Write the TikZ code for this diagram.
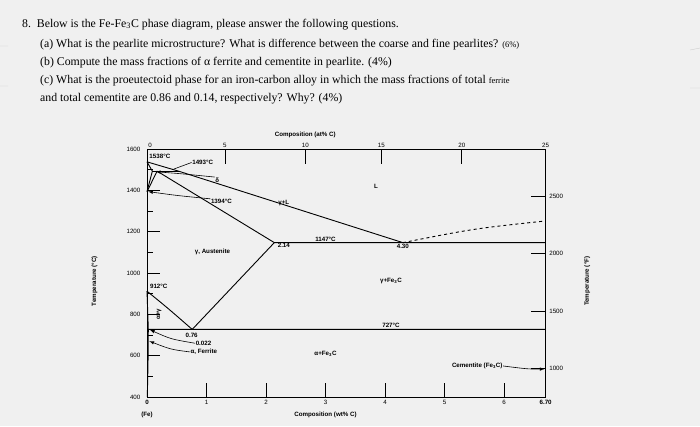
\documentclass[tikz,border=0pt]{standalone}
\usepackage{fontspec}
\setmainfont{Liberation Serif}
\newfontfamily\dsans{Liberation Sans}
\begin{document}
\begin{tikzpicture}[x=1pt,y=-1pt,
  qtext/.style={anchor=base west,inner sep=0,font=\fontsize{11.8}{13}\selectfont},
  lbl/.style={inner sep=0.5pt,font=\dsans\bfseries\fontsize{6.2}{7}\selectfont},
  axlbl/.style={inner sep=0.5pt,font=\dsans\fontsize{6.2}{7}\selectfont},
  pline/.style={line width=0.9pt},
  lead/.style={line width=0.6pt,-latex}]
\fill[gray!12] (0,0) rectangle (700,426);
\useasboundingbox (0,0) rectangle (700,426);
\draw[gray!40] (0,46)--(8,46) (0,86)--(8,86) (690,50)--(700,48) (690,88)--(700,88);
\node[qtext] (q0) at (22,27) {8.\ \ Below is the Fe-Fe\textsubscript{3}C phase diagram, please answer the following questions.};
\node[qtext] (qa) at (40,47) {(a) What is the pearlite microstructure? What is difference between the coarse and fine pearlites? {\fontsize{8.5}{9}\selectfont(6\%)}};
\node[qtext] (qb) at (40,65) {(b) Compute the mass fractions of α ferrite and cementite in pearlite. (4\%)};
\node[qtext] (qc) at (40,83) {(c) What is the proeutectoid phase for an iron-carbon alloy in which the mass fractions of total {\fontsize{8.5}{9}\selectfont ferrite}};
\node[qtext] (qd) at (40,101) {and total cementite are 0.86 and 0.14, respectively? Why? (4\%)};
\begin{scope}[shift={(147,479.6)},x=59.5pt,y=0.2066pt]
\draw[pline] (0,400) rectangle (6.7,1600);
\foreach \t in {400,600,...,1600} {\draw[line width=0.7pt] (0,\t)--(0.22,\t); \node[axlbl,anchor=east] at (-0.1,\t) {\t};}
\foreach \t in {500,700,...,1500} \draw[line width=0.6pt] (0,\t)--(0.1,\t);
\node[axlbl,anchor=south] at (0.05,1605) {0};
\node[lbl,anchor=north] at (0,390) {0};
\node[lbl,anchor=north] at (0,330) {(Fe)};
\foreach \w in {1,...,6} {\draw[line width=0.7pt] (\w,400)--(\w,470); \node[axlbl,anchor=north] at (\w,390) {\w};}
\node[lbl,anchor=north] at (6.7,390) {6.70};
\node[lbl,anchor=north] (cw) at (3.0,330) {Composition (wt\% C)};
\foreach \p/\xx in {5/1.31,10/2.66,15/3.94,20/5.29} {\draw[line width=0.7pt] (\xx,1600)--(\xx,1530); \node[axlbl,anchor=south] at (\xx,1605) {\p};}
\node[axlbl,anchor=south] at (6.7,1605) {25};
\node[lbl,anchor=south] (ca) at (2.66,1650) {Composition (at\% C)};
\foreach \f/\tt in {2500/1371,2000/1093,1500/816,1000/538} {\draw[line width=0.7pt] (6.7,\tt)--(6.45,\tt); \node[axlbl,anchor=west] at (6.75,\tt) {\f};}
\node[lbl,rotate=90] (tf) at (7.4,960) {Temperature (°F)};
\node[lbl,rotate=90] (tc) at (-0.88,960) {Temperature (°C)};
\draw[pline] (0,1538)--(0.53,1493)--(4.30,1147);
\draw[pline,dashed] (4.30,1147) .. controls (5.5,1215) .. (6.7,1252);
\draw[pline] (0,1538)--(0.09,1493)--(0,1394);
\draw[pline] (0.09,1493)--(0.53,1493);
\draw[pline] (0.17,1493)--(0,1394);
\draw[pline] (0.17,1493)--(2.14,1147)--(6.7,1147);
\draw[pline] (0,912) .. controls (0.35,830) .. (0.76,727);
\draw[pline] (0.76,727)--(2.14,1147);
\draw[pline] (0,912)--(0.022,727)--(6.7,727);
\draw[pline] (0.022,727) .. controls (0.02,600) .. (0.005,400);
\node[lbl,anchor=west] (l1538) at (0.03,1565) {1538°C};
\node[lbl,anchor=west] (l1493) at (0.75,1535) {1493°C};
\coordinate (p1493) at (0.45,1503);
\draw[line width=0.6pt] (l1493.west)--(p1493);
\node[lbl] (ldelta) at (1.18,1450) {δ};
\coordinate (pdelta) at (0.15,1490);
\draw[lead] (ldelta.north west) .. controls (0.6,1480) .. (pdelta);
\node[lbl] (l1394) at (1.25,1345) {1394°C};
\coordinate (p1394) at (0.02,1394);
\draw[lead] (l1394.north west) .. controls (0.5,1375) .. (p1394);
\node[lbl] (lgl) at (2.3,1340) {γ+L};
\node[lbl] (lL) at (3.85,1420) {L};
\node[lbl] (l1147) at (3.0,1165) {1147°C};
\node[lbl] (l214) at (2.3,1132) {2.14};
\node[lbl] (l430) at (4.3,1130) {4.30};
\node[lbl] (laus) at (1.1,1100) {γ, Austenite};
\node[lbl] (lgfe) at (4.1,960) {γ+Fe\textsubscript{3}C};
\node[lbl] (l727) at (4.1,745) {727°C};
\node[lbl,anchor=west] (l912) at (0.04,935) {912°C};
\node[lbl,rotate=90] (lag) at (0.2,800) {α+γ};
\node[lbl] (l076) at (0.75,700) {0.76};
\node[lbl] (l0022) at (0.95,660) {0.022};
\coordinate (p0022) at (0.05,725);
\draw[lead] (l0022.west) .. controls (0.4,680) .. (p0022);
\node[lbl,anchor=west] (lfer) at (0.72,618) {α, Ferrite};
\coordinate (pfer) at (0.04,670);
\draw[lead] (lfer.west) .. controls (0.4,630) .. (pfer);
\node[lbl] (lafe) at (3.0,610) {α+Fe\textsubscript{3}C};
\node[lbl] (lcem) at (5.55,550) {Cementite (Fe\textsubscript{3}C)};
\coordinate (pcem) at (6.68,535);
\draw[lead] (lcem.east) .. controls (6.4,535) .. (pcem);
\end{scope}
\end{tikzpicture}
\end{document}
